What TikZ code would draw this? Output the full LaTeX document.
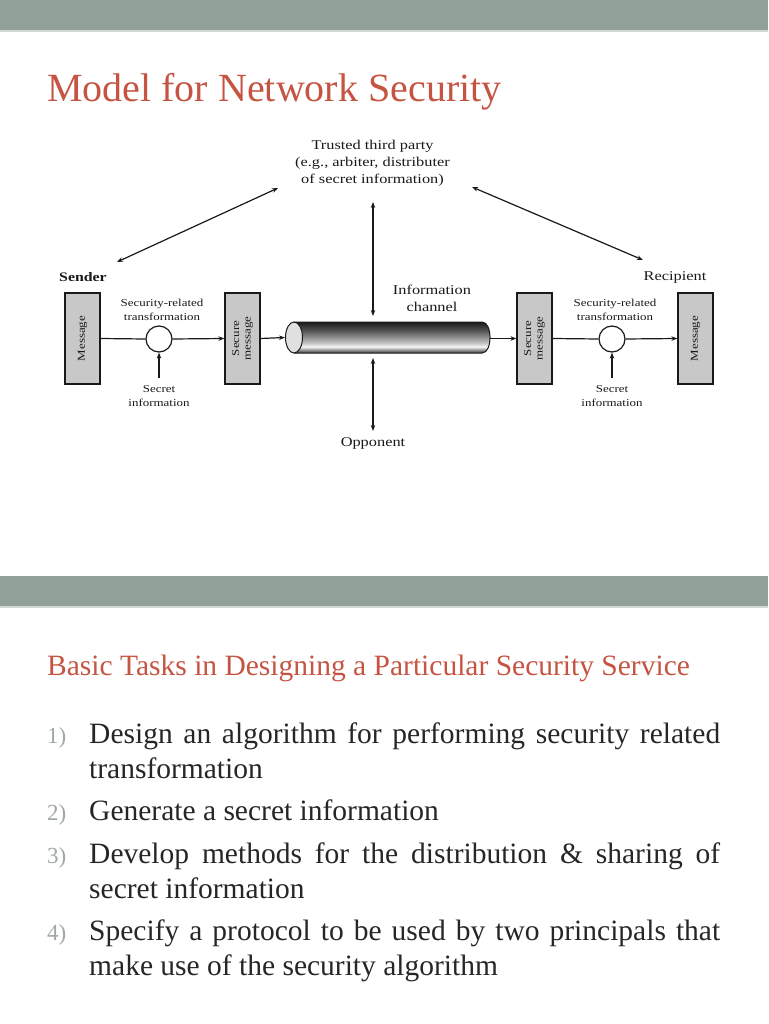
\documentclass[tikz,border=0pt]{standalone}
\usepackage{fontspec}
\setmainfont{Liberation Serif}
\newfontfamily\dg[FakeStretch=1.22]{Liberation Serif}
\usetikzlibrary{arrows.meta,shapes.geometric}
\definecolor{band}{RGB}{145,160,152}
\definecolor{bandline}{RGB}{210,216,213}
\definecolor{ttl}{RGB}{197,84,66}
\definecolor{bodytxt}{RGB}{38,38,38}
\definecolor{numtxt}{RGB}{160,168,163}
\definecolor{boxfill}{RGB}{200,200,200}
\definecolor{ink}{RGB}{25,25,25}
\pgfdeclareverticalshading{cyl}{100bp}{color(0bp)=(black!75); color(25bp)=(black!75); color(29bp)=(black!50); color(35bp)=(black!4); color(42bp)=(black!25); color(60bp)=(black!65); color(75bp)=(black!90); color(100bp)=(black!90)}
\begin{document}
\begin{tikzpicture}[x=1pt,y=-1pt,
  lbl/.style={inner sep=0, text=ink, font=\dg\fontsize{13.4}{17}\selectfont, align=center},
  slbl/.style={inner sep=0, text=ink, font=\dg\fontsize{10.6}{14}\selectfont, align=center},
  msgbox/.style={draw=ink, line width=1.2pt, fill=boxfill, minimum width=35pt, minimum height=91pt, inner sep=0},
  boxtxt/.style={rotate=90, inner sep=0, text=ink, font=\dg\fontsize{10.6}{11.5}\selectfont, align=center},
  xform/.style={circle, draw=ink, line width=1.2pt, fill=white, minimum size=26pt, inner sep=0},
  conn/.style={draw=ink, line width=1.2pt},
  arr/.style={conn, -{Stealth[length=6pt,width=4.5pt]}},
  darr/.style={conn, {Stealth[length=6pt,width=4.5pt]}-{Stealth[length=6pt,width=4.5pt]}},
  numlbl/.style={anchor=base west, inner sep=0, text=numtxt, font=\fontsize{23}{27}\selectfont},
  itemlbl/.style={anchor=base west, inner sep=0, text=bodytxt, font=\fontsize{29.5}{35}\selectfont},
]
\useasboundingbox (0,0) rectangle (768,1024);
% bands
\fill[band] (0,0) rectangle (768,30);
\fill[bandline] (0,30) rectangle (768,32);
\fill[band] (0,576) rectangle (768,606);
\fill[bandline] (0,606) rectangle (768,608);
% titles
\node[anchor=base west, inner sep=0, text=ttl, font=\fontsize{40}{48}\selectfont] (title) at (47,102) {Model for Network Security};
\node[anchor=base west, inner sep=0, text=ttl, font=\fontsize{29.5}{35}\selectfont] (subtitle) at (47,675) {Basic Tasks in Designing a Particular Security Service};
% diagram labels
\node[lbl] (trust) at (372.5,163) {Trusted third party\\(e.g., arbiter, distributer\\of secret information)};
\node[lbl, font=\dg\bfseries\fontsize{13}{17}\selectfont] (sender) at (83,277) {Sender};
\node[lbl] (recip) at (675,277) {Recipient};
\node[lbl] (chan) at (432,298.5) {Information\\channel};
\node[lbl] (opp) at (373,443) {Opponent};
\node[slbl] (srt1) at (162,310) {Security-related\\transformation};
\node[slbl] (srt2) at (615,310) {Security-related\\transformation};
\node[slbl] (sec1) at (159,396) {Secret\\information};
\node[slbl] (sec2) at (612,396) {Secret\\information};
% boxes
\node[msgbox] (m1) at (82.5,338.5) {};
\node[boxtxt] (m1t) at (m1.center) {Message};
\node[msgbox] (s1) at (242.5,338.5) {};
\node[boxtxt] (s1t) at (s1.center) {Secure\\message};
\node[msgbox] (s2) at (534.5,338.5) {};
\node[boxtxt] (s2t) at (s2.center) {Secure\\message};
\node[msgbox] (m2) at (695.5,338.5) {};
\node[boxtxt] (m2t) at (m2.center) {Message};
% circles
\node[xform] (c1) at (159,339) {};
\node[xform] (c2) at (612,339) {};
% cylinder
\shade[shading=cyl] (294,322) -- (482,322) .. controls (492.7,322) and (492.7,353) .. (482,353) -- (294,353) -- cycle;
\draw[ink, line width=1pt] (294,322) -- (482,322) .. controls (492.7,322) and (492.7,353) .. (482,353) -- (294,353);
\node[ellipse, draw=ink, line width=1pt, fill=black!12, minimum width=17pt, minimum height=31pt, inner sep=0] (cylL) at (294,337.5) {};
\coordinate (cylR) at (490,338.5);
% connectors
\draw[conn] (m1.east) -- (c1.west);
\draw[arr] (c1.east) -- (s1.west);
\draw[arr] (s1.east) -- (cylL.west);
\draw[arr] (cylR) -- (s2.west);
\draw[conn] (s2.east) -- (c2.west);
\draw[arr] (c2.east) -- (m2.west);
\coordinate (a1) at (159,378);
\coordinate (a2) at (612,378);
\draw[arr] (a1) -- (c1.south);
\draw[arr] (a2) -- (c2.south);
\coordinate (vt1) at (373,202);
\coordinate (vt2) at (373,316);
\coordinate (vb1) at (373,358);
\coordinate (vb2) at (373,431);
\draw[darr] (vt1) -- (vt2);
\draw[darr] (vb1) -- (vb2);
\coordinate (dl1) at (117,262);
\coordinate (dl2) at (278,188);
\coordinate (dr1) at (472,187);
\coordinate (dr2) at (643,260);
\draw[darr] (dl1) -- (dl2);
\draw[darr] (dr1) -- (dr2);
% list
\node[numlbl] (n1) at (47,743) {1)};
\node[itemlbl] (i1a) at (89,743) {\makebox[631pt][s]{Design an algorithm for performing security related}};
\node[itemlbl] (i1b) at (89,778) {transformation};
\node[numlbl] (n2) at (47,820) {2)};
\node[itemlbl] (i2a) at (89,820) {Generate a secret information};
\node[numlbl] (n3) at (47,863) {3)};
\node[itemlbl] (i3a) at (89,863) {\makebox[631pt][s]{Develop methods for the distribution \& sharing of}};
\node[itemlbl] (i3b) at (89,898) {secret information};
\node[numlbl] (n4) at (47,940) {4)};
\node[itemlbl] (i4a) at (89,940) {\makebox[631pt][s]{Specify a protocol to be used by two principals that}};
\node[itemlbl] (i4b) at (89,975) {make use of the security algorithm};
\end{tikzpicture}
\end{document}
